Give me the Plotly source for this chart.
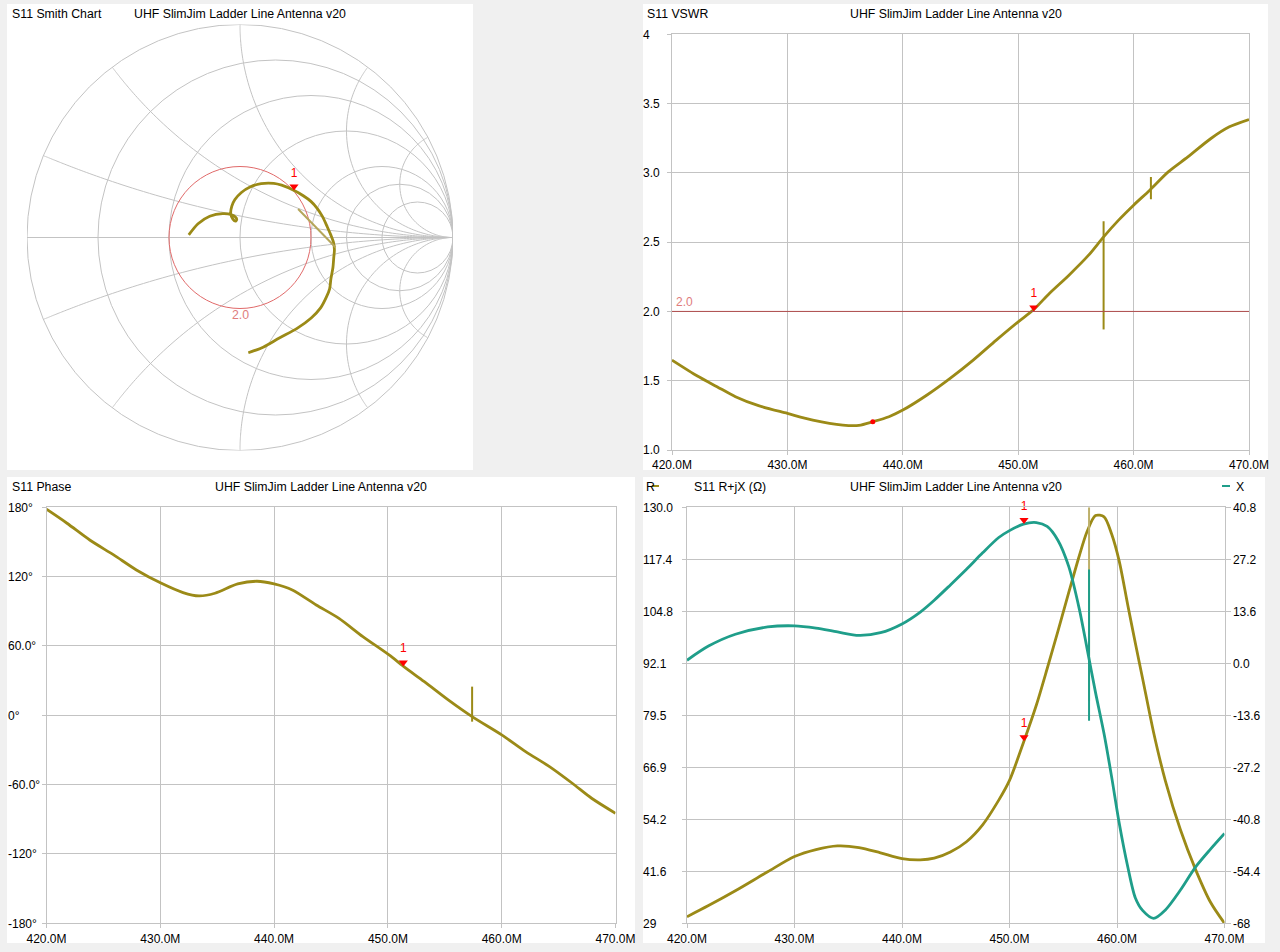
import math
import plotly.graph_objects as go

W, H = 1280, 952


def px(x):
    return x / W


def py(y):
    return 1 - y / H


FONT = "Liberation Sans"
OLIVE = "#9b8a17"
TEAL = "#1f9e8a"
GRID = "#c3c3c3"
RED = "#ff0000"
TITLE = "UHF SlimJim Ladder Line Antenna v20"

# ---------------- data ----------------
freq_ticks = [420, 430, 440, 450, 460, 470]
freq_ticktext = ["420.0M", "430.0M", "440.0M", "450.0M", "460.0M", "470.0M"]

# VSWR panel
vswr_freq = [420, 422.2, 423.9, 425.5, 427.5, 430, 432.2, 434.8, 436.2, 437.4, 438.8, 440,
             442.1, 444.1, 446.1, 448.1, 450, 451.3, 452.7, 454.4, 456.1, 457.4, 458.7, 460,
             461.4, 463, 464.7, 466.7, 468.3, 470]
vswr_vals = [1.649, 1.534, 1.457, 1.385, 1.320, 1.264, 1.216, 1.180, 1.178, 1.204, 1.240, 1.288,
             1.397, 1.517, 1.649, 1.793, 1.925, 2.010, 2.130, 2.262, 2.406, 2.538, 2.659, 2.767,
             2.875, 3.007, 3.115, 3.248, 3.332, 3.385]
vswr_ticks = [1.0, 1.5, 2.0, 2.5, 3.0, 3.5, 4.0]
vswr_ticktext = ["1.0", "1.5", "2.0", "2.5", "3.0", "3.5", "4"]
vswr_limit = 2.0
vswr_glitch_freq = [457.4, 457.4]
vswr_glitch_vals = [2.65, 1.87]
vswr_glitch2_freq = [461.5, 461.5]
vswr_glitch2_vals = [2.97, 2.81]
vswr_dot_freq = [437.4]
vswr_dot_vals = [1.204]

# Phase panel
phase_freq = [420, 421.8, 423.8, 425.9, 427.9, 430.1, 432, 433.4, 434.8, 436.8, 438.5, 440,
              441.6, 443.7, 445.7, 447.8, 450.1, 451.4, 453.2, 455.3, 457.4, 460, 462.1, 464.2,
              466.2, 467.9, 470]
phase_vals = [178.3, 166.2, 151.7, 138.8, 125.8, 114.2, 106.2, 103.3, 105.6, 113.7, 116, 113.7,
              108.5, 95.5, 83.9, 68.1, 52.2, 42.1, 29.1, 13.3, -1.2, -17, -31.5, -44.4,
              -58.8, -71.8, -84.8]
phase_ticks = [-180, -120, -60, 0, 60, 120, 180]
phase_ticktext = ["-180°", "-120°", "-60.0°", "0°", "60.0°", "120°", "180°"]
phase_glitch_freq = [457.4, 457.4]
phase_glitch_vals = [24.8, -5.5]

# R + jX panel (ohms)
z_freq = [420, 422, 424.5, 427.5, 430, 432, 434, 436, 438, 440, 441.7, 443, 444.5, 446, 447.5,
          449, 450, 451.3, 452.5, 453.5, 454.5, 455.5, 456.5, 457.2, 458, 458.8, 459.5, 460.2,
          461, 461.7, 462.4, 463.4, 464.5, 465.9, 467.3, 468.7, 470]
r_vals = [30.6, 33.3, 36.9, 41.5, 45.2, 46.9, 47.8, 47.4, 46.1, 44.7, 44.4, 44.8, 46.3, 48.8,
          52.9, 58.9, 63.7, 72.9, 82.0, 90.8, 99.9, 109.2, 118.3, 124.0, 128.0, 127.7, 123.5,
          117.0, 106.3, 97.1, 88.2, 75.4, 63.6, 51.7, 42.1, 34.1, 29.0]
x_vals = [0.8, 4.5, 7.6, 9.5, 9.8, 9.2, 8.2, 7.3, 8.0, 10.3, 13.4, 16.5, 20.5, 24.6, 28.9, 32.9,
          34.7, 36.4, 36.8, 35.8, 32.2, 25.4, 14.1, 4.1, -7.6, -18.5, -29.7, -41.7, -53.2,
          -61.3, -64.7, -66.7, -64.5, -59.3, -53.3, -48.6, -44.5]
z_glitch_freq = [457.4, 457.4]
r_glitch_vals = [130.0, 83.0]
x_glitch_vals = [-15.0, 24.5]
r_ticks = [29, 41.625, 54.25, 66.875, 79.5, 92.125, 104.75, 117.375, 130]
r_ticktext = ["29", "41.6", "54.2", "66.9", "79.5", "92.1", "104.8", "117.4", "130.0"]
x_ticks = [-68, -54.4, -40.8, -27.2, -13.6, 0, 13.6, 27.2, 40.8]
x_ticktext = ["-68", "-54.4", "-40.8", "-27.2", "-13.6", "0.0", "13.6", "27.2", "40.8"]
z0 = 50.0

# Marker 1
marker_freq = 451.35
marker_vswr = 2.0
marker_phase = 42.3
marker_r = 73.2
marker_x = 36.4

# Smith chart grid (normalised resistance circles / reactance arcs)
smith_r_grid = [0.2, 0.5, 1, 2, 3, 5]
smith_x_grid = [0.2, 0.5, 1, 2, 4]


def gamma(r_ohm, x_ohm):
    z = complex(r_ohm / z0, x_ohm / z0)
    g = (z - 1) / (z + 1)
    return g.real, g.imag


# ---------------- figure ----------------
fig = go.Figure()
LW = 2.8

# Smith chart data (reflection coefficient from R + jX)
sm = [gamma(r, x) for r, x in zip(r_vals, x_vals)]
smg = [gamma(r, x) for r, x in zip(r_glitch_vals, x_glitch_vals)]
smm = gamma(marker_r, marker_x)

fig.add_trace(go.Scatter(x=[p[0] for p in sm], y=[p[1] for p in sm], mode="lines",
                         line=dict(color=OLIVE, width=LW, shape="spline", smoothing=0.8),
                         xaxis="x4", yaxis="y8"))
fig.add_trace(go.Scatter(x=[p[0] for p in smg], y=[p[1] for p in smg], mode="lines",
                         line=dict(color="#b5a65a", width=2), xaxis="x4", yaxis="y8"))

# VSWR
line_main = dict(color=OLIVE, width=LW, shape="spline", smoothing=0.8)
fig.add_trace(go.Scatter(x=vswr_freq, y=vswr_vals, mode="lines", line=line_main,
                         xaxis="x", yaxis="y"))
for gf, gv in [(vswr_glitch_freq, vswr_glitch_vals), (vswr_glitch2_freq, vswr_glitch2_vals)]:
    fig.add_trace(go.Scatter(x=gf, y=gv, mode="lines", line=dict(color=OLIVE, width=2),
                             xaxis="x", yaxis="y"))
fig.add_trace(go.Scatter(x=vswr_dot_freq, y=vswr_dot_vals, mode="markers",
                         marker=dict(color=RED, size=5), xaxis="x", yaxis="y"))

# Phase
fig.add_trace(go.Scatter(x=phase_freq, y=phase_vals, mode="lines", line=line_main,
                         xaxis="x2", yaxis="y2"))
fig.add_trace(go.Scatter(x=phase_glitch_freq, y=phase_glitch_vals, mode="lines",
                         line=dict(color=OLIVE, width=2), xaxis="x2", yaxis="y2"))

# R + jX
fig.add_trace(go.Scatter(x=z_freq, y=r_vals, mode="lines", line=line_main,
                         xaxis="x3", yaxis="y3"))
fig.add_trace(go.Scatter(x=z_glitch_freq, y=r_glitch_vals, mode="lines",
                         line=dict(color="#bdb06a", width=2), xaxis="x3", yaxis="y3"))
fig.add_trace(go.Scatter(x=z_freq, y=x_vals, mode="lines",
                         line=dict(color=TEAL, width=LW, shape="spline", smoothing=0.8),
                         xaxis="x3", yaxis="y4"))
fig.add_trace(go.Scatter(x=z_glitch_freq, y=x_glitch_vals, mode="lines",
                         line=dict(color=TEAL, width=2), xaxis="x3", yaxis="y4"))

# markers "1"
for xa, ya, xv, yv in [("x", "y", marker_freq, marker_vswr),
                       ("x2", "y2", marker_freq, marker_phase),
                       ("x3", "y3", marker_freq, marker_r),
                       ("x3", "y4", marker_freq, marker_x),
                       ("x4", "y8", smm[0], smm[1])]:
    fig.add_trace(go.Scatter(x=[xv], y=[yv], mode="markers", xaxis=xa, yaxis=ya,
                             cliponaxis=False,
                             marker=dict(symbol="triangle-up", angle=180, size=8, color=RED,
                                         standoff=4, line=dict(width=0))))
    fig.add_trace(go.Scatter(x=[xv], y=[yv], mode="markers+text", xaxis=xa, yaxis=ya,
                             text=["1"], textposition="top center", cliponaxis=False,
                             textfont=dict(color=RED, size=12, family=FONT),
                             marker=dict(size=16, color="rgba(0,0,0,0)")))

# invisible traces to anchor left-aligned label axes
for xa, ya, v in [("x", "y5", vswr_ticks[0]), ("x2", "y6", phase_ticks[0]), ("x3", "y7", r_ticks[0])]:
    fig.add_trace(go.Scatter(x=[freq_ticks[0]], y=[v], mode="markers", xaxis=xa, yaxis=ya,
                             marker=dict(color="rgba(0,0,0,0)", size=1), hoverinfo="skip"))

tickfont = dict(family=FONT, size=12, color="black")


def xax(d0, d1, anchor):
    return dict(domain=[px(d0), px(d1)], range=[420, 470], anchor=anchor,
                tickvals=freq_ticks, ticktext=freq_ticktext, tickfont=tickfont,
                showgrid=True, gridcolor=GRID, gridwidth=1, zeroline=False,
                showline=True, linecolor=GRID, mirror=True, ticks="outside", ticklen=4,
                tickcolor=GRID, automargin=False)


def yax(d0, d1, rng, tv, anchor):
    return dict(domain=[py(d1), py(d0)], range=rng, anchor=anchor, tickvals=tv,
                showticklabels=False, showgrid=True, gridcolor=GRID, gridwidth=1,
                zeroline=False, showline=True, linecolor=GRID, mirror=True,
                ticks="outside", ticklen=4, tickcolor=GRID, automargin=False)


def label_ax(overl, rng, tv, tt, xpos):
    return dict(overlaying=overl, side="right", anchor="free", position=px(xpos), range=rng,
                tickvals=tv, ticktext=tt, tickfont=tickfont, showgrid=False, zeroline=False,
                showline=False, ticks="", automargin=False)


P_TOP, P_BOT = 507.3, 923.3
SM_CX, SM_CY, SM_R = 240, 237.5, 213

layout = dict(
    width=W, height=H, autosize=False,
    margin=dict(l=0, r=0, t=0, b=0, pad=0, autoexpand=False),
    paper_bgcolor="#f0f0f0", plot_bgcolor="white", showlegend=False,
    font=dict(family=FONT, size=12, color="black"),
    xaxis=xax(672, 1249, "y"),
    yaxis=yax(34.3, 450, [1, 4], vswr_ticks, "x"),
    xaxis2=xax(46.5, 615.5, "y2"),
    yaxis2=yax(P_TOP, P_BOT, [-180, 180], phase_ticks, "x2"),
    xaxis3=xax(687, 1224.5, "y3"),
    yaxis3=yax(P_TOP, P_BOT, [29, 130], r_ticks, "x3"),
    yaxis4=dict(overlaying="y3", side="right", anchor="x3", range=[-68, 40.8],
                tickvals=x_ticks, ticktext=x_ticktext, tickfont=tickfont, showgrid=False,
                zeroline=False, showline=False, ticks="outside", ticklen=5, tickcolor=GRID,
                automargin=False),
    yaxis5=label_ax("y", [1, 4], vswr_ticks, vswr_ticktext, 642),
    yaxis6=label_ax("y2", [-180, 180], phase_ticks, phase_ticktext, 7),
    yaxis7=label_ax("y3", [29, 130], r_ticks, r_ticktext, 642),
    xaxis4=dict(domain=[px(SM_CX - SM_R), px(SM_CX + SM_R)], range=[-1, 1], anchor="y8",
                visible=False, automargin=False),
    yaxis8=dict(domain=[py(SM_CY + SM_R), py(SM_CY - SM_R)], range=[-1, 1], anchor="x4",
                visible=False, automargin=False),
)
fig.update_layout(**layout)

# panel backgrounds
shapes = []
for x0, y0, x1, y1 in [(7, 4, 473, 470), (643, 4, 1268, 470), (7, 477, 635, 943),
                       (643, 477, 1265, 943)]:
    shapes.append(dict(type="rect", xref="paper", yref="paper", x0=px(x0), x1=px(x1),
                       y0=py(y1), y1=py(y0), fillcolor="white", line=dict(width=0),
                       layer="below"))

# Smith grid: outer circle + resistance circles
sg = dict(xref="x4", yref="y8", layer="below", line=dict(color=GRID, width=1))
for r in [0] + smith_r_grid:
    c, rad = r / (1 + r), 1 / (1 + r)
    shapes.append(dict(type="circle", x0=c - rad, x1=c + rad, y0=-rad, y1=rad, **sg))
shapes.append(dict(type="line", x0=-1, x1=1, y0=0, y1=0, **sg))
# reactance arcs (constant X, R from 0 to infinity)
r_steps = [0]
v = 0.002
while v < 5000:
    r_steps.append(v)
    v *= 1.08
for xg in smith_x_grid:
    for sgn in (1, -1):
        pts = []
        for r in r_steps:
            z = complex(r, sgn * xg)
            g = (z - 1) / (z + 1)
            pts.append((g.real, g.imag))
        pts.append((1.0, 0.0))
        path = "M" + " L".join(f"{a:.5f},{b:.5f}" for a, b in pts)
        shapes.append(dict(type="path", path=path, **sg))
# VSWR circle on Smith chart
gl = (vswr_limit - 1) / (vswr_limit + 1)
shapes.append(dict(type="circle", xref="x4", yref="y8", layer="below", x0=-gl, x1=gl,
                   y0=-gl, y1=gl, line=dict(color="#e06a6a", width=1)))
# VSWR limit line (drawn above the grid, under nothing else important)
shapes.append(dict(type="line", xref="x domain", yref="y", x0=0, x1=1, y0=vswr_limit,
                   y1=vswr_limit, line=dict(color="#b04c4c", width=1)))
# legend dashes on R+jX header
shapes.append(dict(type="line", xref="paper", yref="paper", x0=px(652), x1=px(659),
                   y0=py(486), y1=py(486), line=dict(color=OLIVE, width=2)))
shapes.append(dict(type="line", xref="paper", yref="paper", x0=px(1222), x1=px(1230),
                   y0=py(486), y1=py(486), line=dict(color=TEAL, width=2)))
fig.update_layout(shapes=shapes)

ann = []


def txt(text, x, y, anchor="left", color="black", size=12.3):
    ann.append(dict(text=text, x=px(x), y=py(y), xref="paper", yref="paper",
                    xanchor=anchor, yanchor="middle", showarrow=False,
                    font=dict(family=FONT, size=size, color=color)))


txt("S11 Smith Chart", 10, 14.5)
txt(TITLE, 240, 14.5, "center")
txt("S11 VSWR", 645, 14.5)
txt(TITLE, 955.5, 14.5, "center")
txt("S11 Phase", 10, 487.5)
txt(TITLE, 321, 487.5, "center")
txt("R", 644, 487.5)
txt("S11 R+jX (Ω)", 692, 487.5)
txt(TITLE, 955.5, 487.5, "center")
txt("X", 1234, 487.5)
txt("2.0", 240, 315, "center", "#e07c7c")
ann.append(dict(text="2.0", x=420, y=vswr_limit, xref="x", yref="y", xanchor="left",
                yanchor="bottom", xshift=2, yshift=0, showarrow=False,
                font=dict(family=FONT, size=12, color="#e07c7c")))
fig.update_layout(annotations=ann)

fig.write_html("out.html")
